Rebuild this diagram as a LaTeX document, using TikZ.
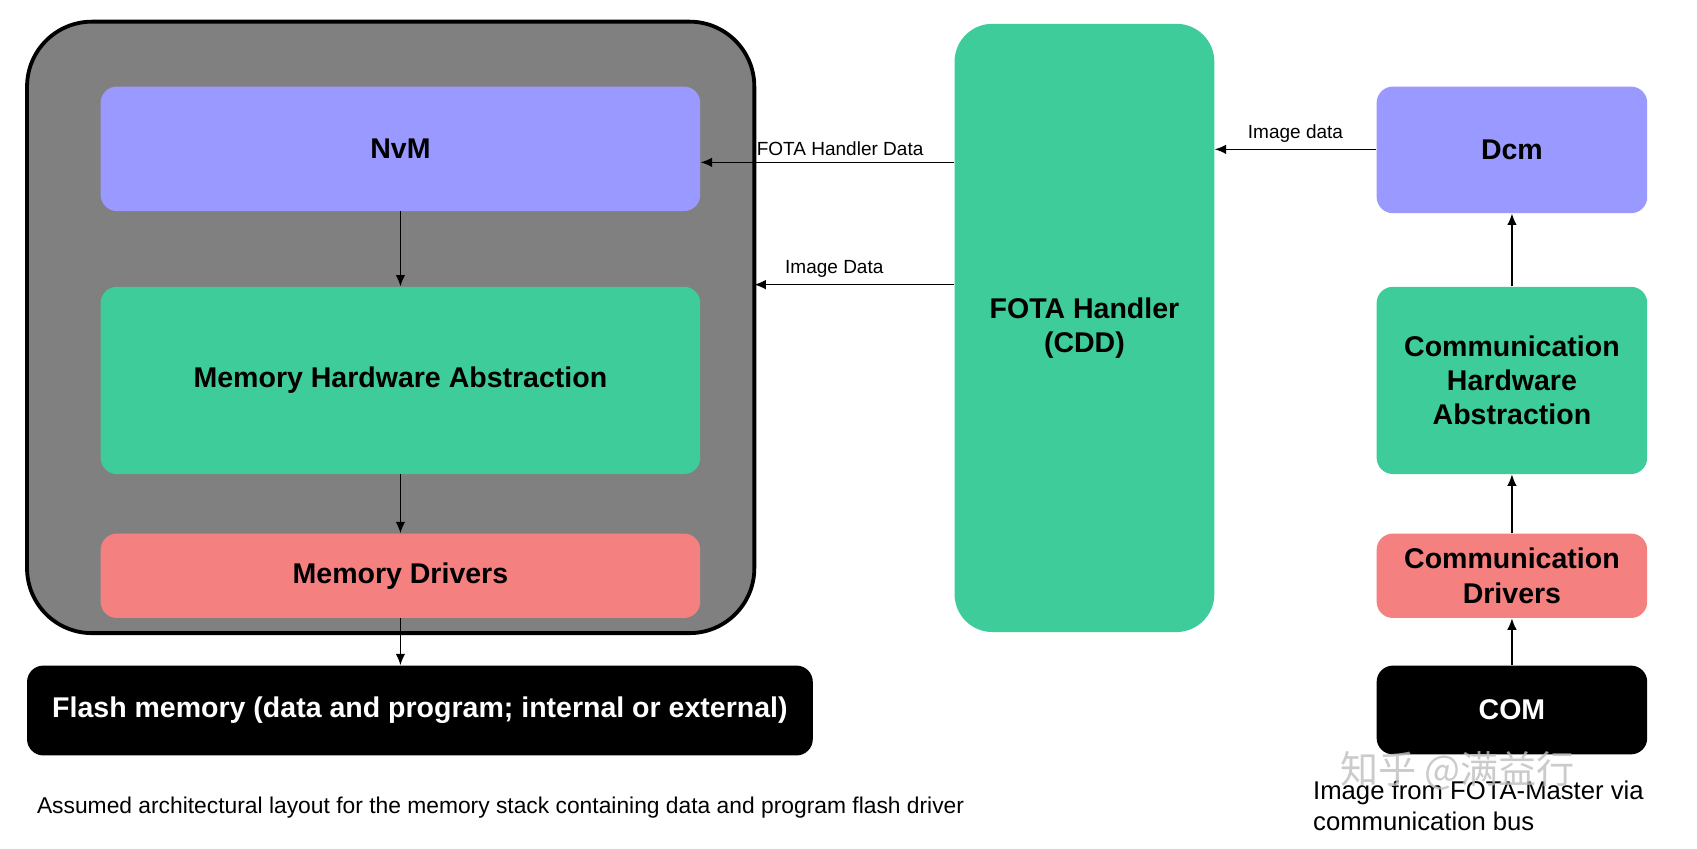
\documentclass[tikz,border=0pt]{standalone}
\usetikzlibrary{arrows.meta}
\usepackage{fontspec}
\setmainfont{Liberation Sans}
\newfontfamily\cjk{Noto Sans CJK SC}
\begin{document}
\begin{tikzpicture}[x=0.02cm,y=-0.02cm,
  blk/.style={rounded corners=0.3cm,draw=none,font=\fontsize{15}{18}\selectfont\bfseries,align=center},
  pur/.style={blk,fill={rgb,255:red,153;green,153;blue,255}},
  grn/.style={blk,fill={rgb,255:red,62;green,204;blue,154}},
  red/.style={blk,fill={rgb,255:red,244;green,128;blue,128}},
  blkk/.style={blk,fill=black,text=white},
  arr/.style={-{Latex[length=6pt,width=5pt]},line width=0.7pt},
  lbl/.style={font=\fontsize{10}{12}\selectfont}]
\useasboundingbox (0,0) rectangle (1568,784);
\path[fill=white] (0,0) rectangle (1568,784);
\draw[line width=2pt,fill={rgb,255:red,128;green,128;blue,128},rounded corners=1.2cm] (25,20) rectangle (697,585);
\node[pur,minimum width=554*0.02cm,minimum height=115*0.02cm] (nvm) at (370,137.5) {NvM};
\node[grn,minimum width=554*0.02cm,minimum height=173*0.02cm] (mha) at (370,351.5) {Memory Hardware Abstraction};
\node[red,minimum width=554*0.02cm,minimum height=78*0.02cm] (md) at (370,532) {Memory Drivers};
\node[blkk,minimum width=726*0.02cm,minimum height=83*0.02cm] (fl) at (388,656.5) {Flash memory (data and program; internal or external)};
\node[grn,rounded corners=0.7cm,minimum width=240*0.02cm,minimum height=562*0.02cm] (fota) at (1002,303) {FOTA Handler\\(CDD)};
\node[pur,minimum width=250*0.02cm,minimum height=117*0.02cm] (dcm) at (1397,138.5) {Dcm};
\node[grn,minimum width=250*0.02cm,minimum height=173*0.02cm] (cha) at (1397,351.5) {Communication\\Hardware\\Abstraction};
\node[red,minimum width=250*0.02cm,minimum height=78*0.02cm] (cd) at (1397,532) {Communication\\Drivers};
\node[blkk,minimum width=250*0.02cm,minimum height=82*0.02cm] (com) at (1397,656) {COM};
\coordinate (gb) at (697,263);
\draw[arr] (fota.west |- 0,150) -- node[lbl,above,pos=0.45] {FOTA Handler Data} (nvm.east |- 0,150);
\draw[arr] (fota.west |- 0,263) -- node[lbl,above,pos=0.6] {Image Data} (gb);
\draw[arr] (dcm.west |- 0,138) -- node[lbl,above] {Image data} (fota.east |- 0,138);
\draw[arr] (nvm) -- (mha);
\draw[arr] (mha) -- (md);
\draw[arr] (md.south) -- (md.south |- fl.north);
\draw[arr] (com) -- (cd);
\draw[arr] (cd) -- (cha);
\draw[arr] (cha) -- (dcm);
\node[anchor=west,font=\fontsize{12}{14}\selectfont] (cap) at (28,746) {Assumed architectural layout for the memory stack containing data and program flash driver};
\node[anchor=north west,align=left,font=\fontsize{13.5}{16.5}\selectfont,inner sep=0pt] (cap2) at (1213,721) {Image from FOTA-Master via\\communication bus};
\node[anchor=west,text=black!25,opacity=0.8,font=\cjk\fontsize{20}{24}\selectfont] (wm) at (1232,712) {知乎 @满益行};
\end{tikzpicture}
\end{document}
